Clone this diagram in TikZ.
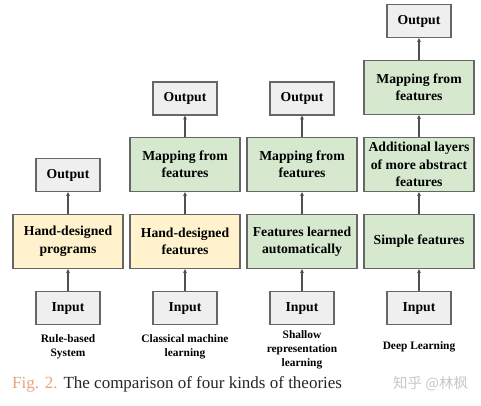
\documentclass[tikz,border=0pt]{standalone}
\usepackage{fontspec}
\setmainfont{Liberation Serif}
\newfontfamily\cjkfont{Noto Sans CJK SC}
\usetikzlibrary{arrows.meta}
\definecolor{yfill}{HTML}{FFF2CC}
\definecolor{gfill}{HTML}{D6E9CF}
\definecolor{ofill}{HTML}{EFEFEF}
\definecolor{edge}{HTML}{666666}
\definecolor{arr}{HTML}{505050}
\definecolor{figorange}{HTML}{E9A37C}
\definecolor{wmark}{HTML}{C8C8C8}
\tikzset{
  base/.style={draw=edge, line width=1.2pt, align=center, font=\bfseries\fontsize{13.7}{17.5}\selectfont, inner sep=0pt},
  smallbox/.style={base, fill=ofill, minimum width=64pt, minimum height=33pt},
  widebox/.style={base, minimum width=110pt, minimum height=54pt},
  ybox/.style={widebox, fill=yfill},
  gbox/.style={widebox, fill=gfill},
  lbl/.style={align=center, font=\bfseries\fontsize{11.4}{14}\selectfont, inner sep=0pt},
  conn/.style={draw=arr, line width=1.5pt, -{Stealth[length=4pt,width=4pt]}},
}
\begin{document}
\begin{tikzpicture}[x=1pt,y=-1pt]
\useasboundingbox (0,0) rectangle (481,406);
\fill[white] (0,0) rectangle (481,406);
% column 1
\node[smallbox] (i1) at (68,308) {Input};
\node[ybox] (h1) at (68,241.5) {Hand-designed\\programs};
\node[smallbox] (o1) at (68,175) {Output};
\node[lbl] (l1) at (68,346.5) {Rule-based\\System};
% column 2
\node[smallbox] (i2) at (185,308) {Input};
\node[ybox] (h2) at (185,241.5) {Hand-designed\\features};
\node[gbox] (m2) at (185,164.5) {Mapping from\\features};
\node[smallbox] (o2) at (185,98.5) {Output};
\node[lbl] (l2) at (185,346.5) {Classical machine\\learning};
% column 3
\node[smallbox] (i3) at (302,308) {Input};
\node[gbox] (f3) at (302,241.5) {Features learned\\automatically};
\node[gbox] (m3) at (302,164.5) {Mapping from\\features};
\node[smallbox] (o3) at (302,98.5) {Output};
\node[lbl] (l3) at (302,350) {Shallow\\representation\\learning};
% column 4
\node[smallbox] (i4) at (419,308) {Input};
\node[gbox] (s4) at (419,241.5) {Simple features};
\node[gbox] (a4) at (419,164.5) {Additional layers\\of more abstract\\features};
\node[gbox] (m4) at (419,87.5) {Mapping from\\features};
\node[smallbox] (o4) at (419,21) {Output};
\node[lbl] (l4) at (419,347) {Deep Learning};
% connectors
\draw[conn] (i1) -- (h1);
\draw[conn] (h1) -- (o1);
\draw[conn] (i2) -- (h2);
\draw[conn] (h2) -- (m2);
\draw[conn] (m2) -- (o2);
\draw[conn] (i3) -- (f3);
\draw[conn] (f3) -- (m3);
\draw[conn] (m3) -- (o3);
\draw[conn] (i4) -- (s4);
\draw[conn] (s4) -- (a4);
\draw[conn] (a4) -- (m4);
\draw[conn] (m4) -- (o4);
% caption
\node[anchor=west, inner sep=0pt, font=\fontsize{17}{19}\selectfont] (cap) at (12,384) {\textcolor{figorange}{Fig. 2.}\hspace{6pt}\textcolor{black!85}{The comparison of four kinds of theories}};
\node[anchor=west, inner sep=0pt, text=wmark, font=\cjkfont\fontsize{14.5}{16}\selectfont] (wm) at (393,384) {知乎 @林枫};
\end{tikzpicture}
\end{document}
